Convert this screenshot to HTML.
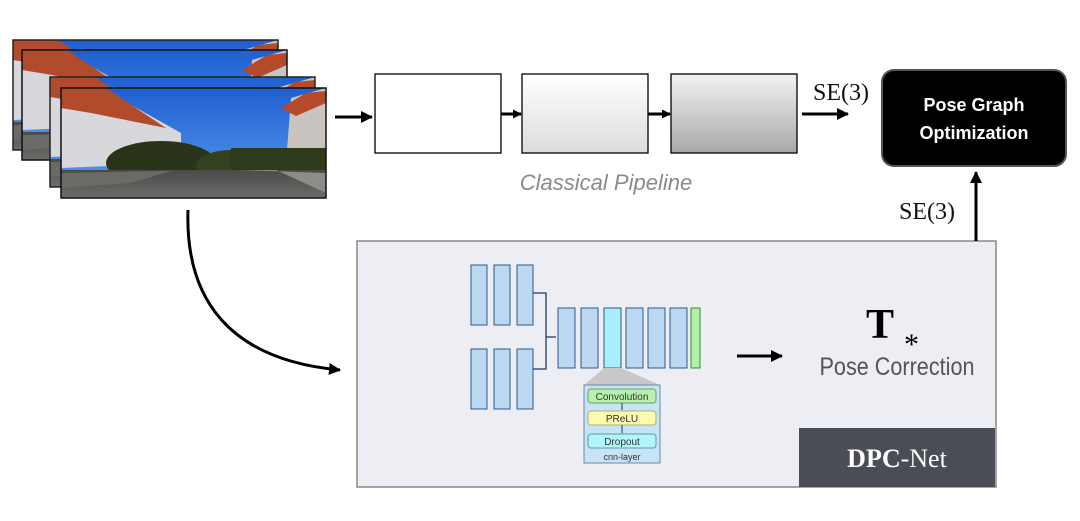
<!DOCTYPE html>
<html><head><meta charset="utf-8"><style>
html,body{margin:0;padding:0;background:#fff;width:1080px;height:521px;overflow:hidden}
svg{display:block}
</style></head><body>
<svg width="1080" height="521" viewBox="0 0 1080 521" xmlns="http://www.w3.org/2000/svg">
<defs>
<linearGradient id="sky" x1="0" y1="0" x2="0" y2="1">
<stop offset="0" stop-color="#1f5fd0"/><stop offset="1" stop-color="#5aa0ec"/></linearGradient>
<linearGradient id="road" x1="0" y1="0" x2="0" y2="1">
<stop offset="0" stop-color="#4a4a4a"/><stop offset="1" stop-color="#6e6c6a"/></linearGradient>
<linearGradient id="g2" x1="0" y1="0" x2="0" y2="1">
<stop offset="0" stop-color="#fff"/><stop offset="1" stop-color="#dcdcdc"/></linearGradient>
<linearGradient id="g3" x1="0" y1="0" x2="0" y2="1">
<stop offset="0" stop-color="#f2f2f2"/><stop offset="1" stop-color="#a8a8a8"/></linearGradient>
<marker id="ah" markerWidth="9" markerHeight="9" refX="8" refY="4.5" orient="auto" markerUnits="userSpaceOnUse">
<path d="M0,0 L9,4.5 L0,9 z" fill="#000"/></marker>
<marker id="ah2" markerWidth="12" markerHeight="12" refX="11" refY="6" orient="auto" markerUnits="userSpaceOnUse">
<path d="M0,0 L12,6 L0,12 z" fill="#000"/></marker>
<g id="scene">
<rect x="0" y="0" width="265" height="110" fill="url(#sky)"/>
<polygon points="0,0 40,0 120,45 120,75 0,80" fill="#d8d8dc"/>
<polygon points="0,0 45,0 105,40 30,25 0,20" fill="#b24a2c"/>
<ellipse cx="100" cy="75" rx="55" ry="22" fill="#2a3418"/>
<ellipse cx="170" cy="78" rx="35" ry="16" fill="#35401f"/>
<polygon points="230,10 265,0 265,75 225,75" fill="#c9c4bf"/>
<polygon points="220,20 245,5 265,3 265,15 235,28" fill="#b44a2a"/>
<rect x="170" y="60" width="95" height="28" fill="#2e3a1a"/>
<polygon points="0,82 265,82 265,110 0,110" fill="url(#road)"/>
<polygon points="180,82 215,82 265,105 265,85" fill="#8e8c88"/>
<polygon points="0,85 110,83 70,95 0,100" fill="#6a6a66"/>
</g>
</defs>

<g><use href="#scene" x="13" y="40"/><rect x="13" y="40" width="265" height="110" fill="none" stroke="#222" stroke-width="1.5"/></g>
<g><use href="#scene" x="22" y="50"/><rect x="22" y="50" width="265" height="110" fill="none" stroke="#111" stroke-width="1.5"/></g>
<g><use href="#scene" x="50" y="77"/><rect x="50" y="77" width="265" height="110" fill="none" stroke="#222" stroke-width="1.5"/></g>
<g><use href="#scene" x="61" y="88"/><rect x="61" y="88" width="265" height="110" fill="none" stroke="#111" stroke-width="1.5"/></g>

<line x1="335" y1="117" x2="372" y2="117" stroke="#000" stroke-width="3" marker-end="url(#ah2)"/>
<rect x="375" y="74" width="126" height="79" fill="#fff" stroke="#000" stroke-width="1.3"/>
<line x1="501" y1="114" x2="521" y2="114" stroke="#000" stroke-width="3" marker-end="url(#ah)"/>
<rect x="522" y="74" width="126" height="79" fill="url(#g2)" stroke="#000" stroke-width="1.3"/>
<line x1="648" y1="114" x2="670" y2="114" stroke="#000" stroke-width="3" marker-end="url(#ah)"/>
<rect x="671" y="74" width="126" height="79" fill="url(#g3)" stroke="#000" stroke-width="1.3"/>
<text x="606" y="190" font-family="Liberation Sans, sans-serif" font-style="italic" font-size="22" fill="#8a8a8a" text-anchor="middle">Classical Pipeline</text>

<text x="841" y="100" font-family="Liberation Serif, serif" font-size="24" fill="#111" text-anchor="middle">SE(3)</text>
<line x1="802" y1="114" x2="848" y2="114" stroke="#000" stroke-width="3" marker-end="url(#ah2)"/>

<rect x="882" y="70" width="184" height="96" rx="12" fill="#000" stroke="#555" stroke-width="2"/>
<text x="974" y="111" font-family="Liberation Sans, sans-serif" font-weight="bold" font-size="18" fill="#fff" text-anchor="middle">Pose Graph</text>
<text x="974" y="139" font-family="Liberation Sans, sans-serif" font-weight="bold" font-size="18" fill="#fff" text-anchor="middle">Optimization</text>

<rect x="357" y="241" width="639" height="246" fill="#eceef3" stroke="#888" stroke-width="1.5"/>
<line x1="976" y1="241" x2="976" y2="172" stroke="#000" stroke-width="3" marker-end="url(#ah2)"/>
<text x="927" y="219" font-family="Liberation Serif, serif" font-size="24" fill="#111" text-anchor="middle">SE(3)</text>

<path d="M188,210 C185,300 230,360 340,370" fill="none" stroke="#000" stroke-width="3" marker-end="url(#ah2)"/>

<g stroke="#2c5a8c" stroke-width="1" fill="#bcd8f0">
<rect x="471" y="265" width="16" height="60"/><rect x="494" y="265" width="16" height="60"/><rect x="517" y="265" width="16" height="60"/>
<rect x="471" y="349" width="16" height="60"/><rect x="494" y="349" width="16" height="60"/><rect x="517" y="349" width="16" height="60"/>
<rect x="558" y="308" width="17" height="60"/><rect x="581" y="308" width="17" height="60"/>
<rect x="604" y="308" width="17" height="60" fill="#a8eefc"/>
<rect x="626" y="308" width="17" height="60"/><rect x="648" y="308" width="17" height="60"/><rect x="670" y="308" width="17" height="60"/>
<rect x="691" y="308" width="9" height="60" fill="#b0f0a8" stroke="#3a8a3a"/>
</g>
<path d="M533,293 H546 V369 H533 M546,337 H556" fill="none" stroke="#1a3a6a" stroke-width="1.3"/>
<polygon points="604,368 621,368 660,385 584,385" fill="#c8c8c8"/>
<rect x="584" y="385" width="76" height="78" fill="#c6e4f6" stroke="#6a8aa8"/>
<rect x="588" y="389" width="68" height="14" rx="3" fill="#b8f0b0" stroke="#6aa06a"/>
<rect x="588" y="411" width="68" height="14" rx="3" fill="#fbfab0" stroke="#b0b070"/>
<rect x="588" y="434" width="68" height="14" rx="3" fill="#b0f6fa" stroke="#5a9aaa"/>
<g font-family="Liberation Sans, sans-serif" font-size="10" fill="#333" text-anchor="middle">
<text x="622" y="400">Convolution</text><text x="622" y="422">PReLU</text><text x="622" y="445">Dropout</text><text x="622" y="460" font-size="9">cnn-layer</text></g>
<line x1="622" y1="403" x2="622" y2="410" stroke="#1a3a6a"/><line x1="622" y1="425" x2="622" y2="433" stroke="#1a3a6a"/>

<line x1="737" y1="356" x2="782" y2="356" stroke="#000" stroke-width="3" marker-end="url(#ah2)"/>
<text x="866" y="338" font-family="Liberation Serif, serif" font-weight="bold" font-size="42" fill="#000">T</text>
<text x="904" y="354" font-family="Liberation Serif, serif" font-size="30" fill="#000">*</text>
<text x="897" y="375" font-family="Liberation Sans, sans-serif" font-size="25" fill="#555" text-anchor="middle" textLength="155" lengthAdjust="spacingAndGlyphs">Pose Correction</text>

<rect x="799" y="428" width="196" height="59" fill="#4a4d55"/>
<text x="897" y="467" font-family="Liberation Serif, serif" font-size="26" fill="#fff" text-anchor="middle"><tspan font-weight="bold">DPC</tspan>-Net</text>
</svg>
</body></html>
